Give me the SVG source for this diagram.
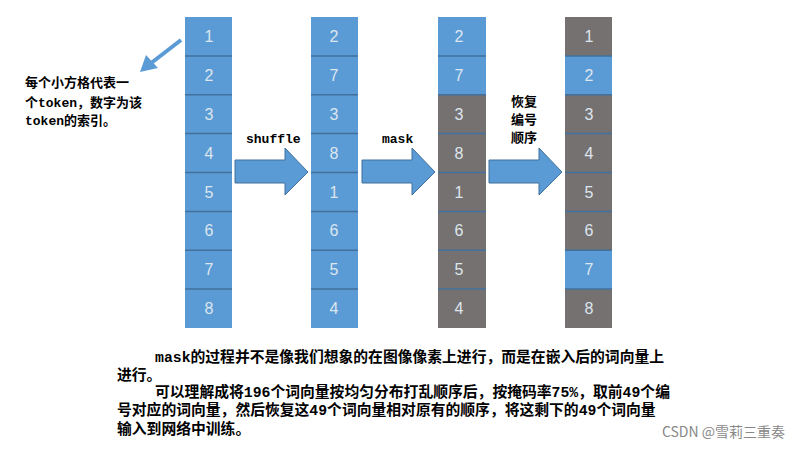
<svg xmlns="http://www.w3.org/2000/svg" width="800" height="450" viewBox="0 0 800 450">
<style>
.b{fill:#5b9bd5}.g{fill:#767171}.sep{stroke:#41719c;stroke-width:1.5}
.n{font-family:"Liberation Sans",sans-serif;font-size:16px;fill:#dde6ee;text-anchor:middle}
.t{font-family:"Liberation Mono","Noto Sans CJK SC",monospace;font-size:13px;font-weight:bold;fill:#000}
.p{font-size:14.8px}
.arr{fill:#5b9bd5;stroke:#41719c;stroke-width:1}
</style>
<rect width="800" height="450" fill="#fff"/>
<g id="col1">
<rect class="b" x="185" y="17" width="47" height="311"/>
<path class="sep" d="M185 55.9H232M185 94.8H232M185 133.6H232M185 172.5H232M185 211.4H232M185 250.3H232M185 289.1H232"/>
<text class="n" x="209" y="42">1</text><text class="n" x="209" y="81">2</text><text class="n" x="209" y="120">3</text><text class="n" x="209" y="159">4</text><text class="n" x="209" y="198">5</text><text class="n" x="209" y="236">6</text><text class="n" x="209" y="275">7</text><text class="n" x="209" y="314">8</text>
</g>
<g id="col2">
<rect class="b" x="311" y="17" width="47" height="311"/>
<path class="sep" d="M311 55.9H358M311 94.8H358M311 133.6H358M311 172.5H358M311 211.4H358M311 250.3H358M311 289.1H358"/>
<text class="n" x="334" y="42">2</text><text class="n" x="334" y="81">7</text><text class="n" x="334" y="120">3</text><text class="n" x="334" y="159">8</text><text class="n" x="334" y="198">1</text><text class="n" x="334" y="236">6</text><text class="n" x="334" y="275">5</text><text class="n" x="334" y="314">4</text>
</g>
<g id="col3">
<rect class="b" x="438" y="17" width="48" height="77.8"/>
<rect class="g" x="438" y="94.8" width="48" height="233.2"/>
<path class="sep" d="M438 55.9H486M438 94.8H486M438 133.6H486M438 172.5H486M438 211.4H486M438 250.3H486M438 289.1H486"/>
<text class="n" x="459" y="42">2</text><text class="n" x="459" y="81">7</text><text class="n" x="459" y="120">3</text><text class="n" x="459" y="159">8</text><text class="n" x="459" y="198">1</text><text class="n" x="459" y="236">6</text><text class="n" x="459" y="275">5</text><text class="n" x="459" y="314">4</text>
</g>
<g id="col4">
<rect class="g" x="565" y="17" width="47" height="311"/>
<rect class="b" x="565" y="55.9" width="47" height="38.9"/>
<rect class="b" x="565" y="250.3" width="47" height="38.8"/>
<path class="sep" d="M565 55.9H612M565 94.8H612M565 133.6H612M565 172.5H612M565 211.4H612M565 250.3H612M565 289.1H612"/>
<text class="n" x="589" y="42">1</text><text class="n" x="589" y="81">2</text><text class="n" x="589" y="120">3</text><text class="n" x="589" y="159">4</text><text class="n" x="589" y="198">5</text><text class="n" x="589" y="236">6</text><text class="n" x="589" y="275">7</text><text class="n" x="589" y="314">8</text>
</g>
<g id="connectors">
<path class="arr" d="M235 160H285V148L308 172L285 195V183H235Z"/>
<path class="arr" d="M362 160H412V148L435 172L412 195V183H362Z"/>
<path class="arr" d="M489 160H539V148L562 172L539 195V183H489Z"/>
<path d="M181 40L146 67" stroke="#5b9bd5" stroke-width="4" fill="none"/>
<path d="M140 72L146 55L158 68Z" fill="#5b9bd5"/>
</g>
<g id="labels">
<text class="t" x="246" y="143">shuffle</text>
<text class="t" x="382" y="143">mask</text>
<text class="t" x="511" y="106">恢复</text>
<text class="t" x="511" y="124">编号</text>
<text class="t" x="511" y="142">顺序</text>
<text class="t" x="25" y="87">每个小方格代表一</text>
<text class="t" x="25" y="107">个token，数字为该</text>
<text class="t" x="25" y="125">token的索引。</text>
<text class="t p" x="155" y="362">mask的过程并不是像我们想象的在图像像素上进行，而是在嵌入后的词向量上</text>
<text class="t p" x="117" y="380">进行。</text>
<text class="t p" x="155" y="397">可以理解成将196个词向量按均匀分布打乱顺序后，按掩码率75%，取前49个编</text>
<text class="t p" x="117" y="415">号对应的词向量，然后恢复这49个词向量相对原有的顺序，将这剩下的49个词向量</text>
<text class="t p" x="117" y="434">输入到网络中训练。</text>
<text x="785" y="437" font-family="'Noto Sans CJK SC',sans-serif" font-size="14" fill="#888" text-anchor="end">CSDN @雪莉三重奏</text>
</g>
</svg>
